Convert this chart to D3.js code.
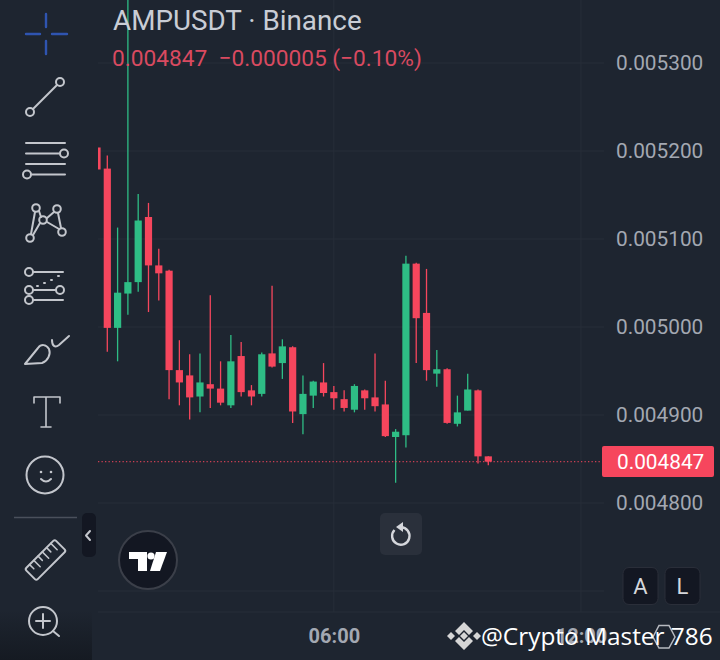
<!DOCTYPE html>
<html>
<head>
<meta charset="UTF-8">
<title>AMPUSDT</title>
<script src="https://d3js.org/d3.v7.min.js"></script>
<style>
  html, body { margin: 0; padding: 0; background: #1e2530; }
  svg { display: block; font-family: Roboto, sans-serif; }
  .price-axis text { fill: #a3a8b2; font-size: 20.8px; font-family: Roboto, sans-serif; }
  .time-axis text { fill: #a3a8b2; font-size: 20px; font-weight: 700; font-family: Roboto, sans-serif; }
  .tool { fill: none; stroke: #c3c6cc; stroke-width: 2; stroke-linecap: round; stroke-linejoin: round; }
</style>
</head>
<body>
<svg id="chart" width="720" height="660"></svg>
<script>
// candles, oldest first
const opens = [0.005204, 0.005180, 0.004999, 0.005038, 0.005051, 0.005125, 0.005070, 0.005064, 0.004951, 0.004945,
  0.004921, 0.004935, 0.004930, 0.004911, 0.004967, 0.004928, 0.004924, 0.004970, 0.004959, 0.004977,
  0.004901, 0.004922, 0.004937, 0.004926, 0.004918, 0.004906, 0.004928, 0.004920, 0.004912, 0.004875,
  0.004877, 0.005072, 0.005016, 0.004947, 0.004952, 0.004890, 0.004905, 0.004928, 0.004853];
const highs = [0.005204, 0.005195, 0.005113, 0.005372, 0.005151, 0.005141, 0.005089, 0.005065, 0.004985, 0.004969,
  0.004970, 0.005036, 0.004961, 0.004991, 0.004983, 0.004934, 0.004971, 0.005047, 0.004986, 0.004978,
  0.004945, 0.004939, 0.004959, 0.004933, 0.004928, 0.004935, 0.004929, 0.004970, 0.004939, 0.004884,
  0.005081, 0.005073, 0.005066, 0.004974, 0.004953, 0.004922, 0.004947, 0.004929, 0.004853];
const lows = [0.005179, 0.004972, 0.004961, 0.005014, 0.005040, 0.005017, 0.005030, 0.004918, 0.004911, 0.004895,
  0.004903, 0.004908, 0.004911, 0.004908, 0.004921, 0.004911, 0.004921, 0.004954, 0.004941, 0.004891,
  0.004878, 0.004908, 0.004921, 0.004906, 0.004904, 0.004903, 0.004906, 0.004904, 0.004875, 0.004823,
  0.004863, 0.004959, 0.004939, 0.004932, 0.004890, 0.004887, 0.004905, 0.004845, 0.004843];
const closes = [0.005179, 0.004999, 0.005039, 0.005051, 0.005121, 0.005070, 0.005061, 0.004951, 0.004937, 0.004920,
  0.004937, 0.004930, 0.004914, 0.004961, 0.004926, 0.004921, 0.004969, 0.004955, 0.004978, 0.004904,
  0.004924, 0.004938, 0.004925, 0.004919, 0.004908, 0.004933, 0.004919, 0.004910, 0.004876, 0.004881,
  0.005072, 0.005010, 0.004951, 0.004952, 0.004891, 0.004903, 0.004929, 0.004853, 0.004847];
const priceTicks = [0.0048, 0.0049, 0.0050, 0.0051, 0.0052, 0.0053];
const gridOnly = [0.0047];
const timeTicks = [23, 47];
const timeLabels = { 23: "06:00", 47: "12:00" };
const lastPrice = 0.004847;

const UP = "#2ebd85", DOWN = "#f6465d", GRID = "#272e39";

const svg = d3.select("#chart");

const x = d3.scaleLinear().domain([0, 38]).range([97, 488.3]);
const y = d3.scaleLinear().domain([0.0048, 0.0053]).range([503, 63]);

svg.append("clipPath").attr("id", "plot").append("rect")
  .attr("x", 98).attr("y", 0).attr("width", 520).attr("height", 612);

const shade = svg.append("linearGradient").attr("id", "toolbarShade")
  .attr("x1", 0).attr("x2", 0).attr("y1", 0).attr("y2", 1);
shade.append("stop").attr("offset", 0).attr("stop-color", "#151a22").attr("stop-opacity", 0);
shade.append("stop").attr("offset", 1).attr("stop-color", "#151a22").attr("stop-opacity", 1);

// grid
const grid = svg.append("g");
grid.selectAll(".h").data(priceTicks.concat(gridOnly)).join("line")
  .attr("x1", 98).attr("x2", 604)
  .attr("y1", d => y(d)).attr("y2", d => y(d))
  .attr("stroke", GRID);
grid.selectAll(".v").data(timeTicks).join("line")
  .attr("x1", d => x(d)).attr("x2", d => x(d))
  .attr("y1", 0).attr("y2", 612)
  .attr("stroke", GRID);
grid.append("line").attr("x1", 98).attr("x2", 720).attr("y1", 612).attr("y2", 612).attr("stroke", GRID);

// candles
const candles = svg.append("g").attr("clip-path", "url(#plot)");
const idx = d3.range(opens.length);
const color = i => closes[i] >= opens[i] ? UP : DOWN;

candles.selectAll(".wick").data(idx).join("line")
  .attr("x1", i => x(i)).attr("x2", i => x(i))
  .attr("y1", i => y(highs[i])).attr("y2", i => y(lows[i]))
  .attr("stroke", color).attr("stroke-width", 1.3);
candles.selectAll(".body").data(idx).join("rect")
  .attr("x", i => x(i) - 3.6).attr("width", 7.2)
  .attr("y", i => y(Math.max(opens[i], closes[i])))
  .attr("height", i => Math.abs(y(opens[i]) - y(closes[i])))
  .attr("fill", color);

// last price line
svg.append("line").attr("x1", 98).attr("x2", 602)
  .attr("y1", y(lastPrice)).attr("y2", y(lastPrice))
  .attr("stroke", DOWN).attr("stroke-opacity", 0.8).attr("stroke-width", 1.3).attr("stroke-dasharray", "1.3 2.2");

// axes
const priceAxis = d3.axisRight(y).tickValues(priceTicks).tickSize(0).tickPadding(0).tickFormat(d3.format(".6f"));
svg.append("g").attr("class", "price-axis").attr("transform", "translate(616,0)").call(priceAxis)
  .call(g => g.select(".domain").remove());

const timeAxis = d3.axisBottom(x).tickValues(timeTicks).tickSize(0).tickPadding(0).tickFormat(d => timeLabels[d]);
svg.append("g").attr("class", "time-axis").attr("transform", "translate(0,629)").call(timeAxis)
  .call(g => g.select(".domain").remove());

svg.append("rect").attr("x", 602).attr("y", 446).attr("width", 112).attr("height", 31).attr("rx", 2).attr("fill", DOWN);
svg.append("text").attr("x", 617).attr("y", 469).attr("fill", "#fff").attr("font-size", 20.8).text(d3.format(".6f")(lastPrice));

// header
svg.append("text").attr("x", 113).attr("y", 30).attr("fill", "#c9cdd5").attr("font-size", 27.8).text("AMPUSDT · Binance");
svg.append("text").attr("x", 112).attr("y", 66).attr("fill", "#d94a60").attr("font-size", 22.7)
  .text("0.004847  −0.000005 (−0.10%)").attr("xml:space", "preserve");

// left toolbar
const tools = svg.append("g");
tools.append("rect").attr("x", 0).attr("y", 610).attr("width", 92).attr("height", 50).attr("fill", "url(#toolbarShade)");

function tool(d, stroke) {
  const p = tools.append("path").attr("class", "tool").attr("d", d);
  if (stroke) p.style("stroke", stroke);
  return p;
}
function ring(cx, cy, r) {
  tools.append("circle").attr("class", "tool").attr("cx", cx).attr("cy", cy).attr("r", r);
}

tool("M46 14V27M46 41V54M26 34H40M52 34H67", "#2f54b0").style("stroke-width", 2.4);

tool("M33 109L57 85"); ring(30, 112, 4); ring(60, 82, 4);

tool("M26 143H65M26 153.5H60M26 164H65M31 174.5H65"); ring(64, 153.5, 4); ring(27, 174.5, 4);

tool("M35 212L31 234M39 211L41 217M54 212L47 218M40 223L33 235M47 222L59 229M58 213L61 228");
ring(36, 208, 3.8); ring(57, 209, 3.8); ring(43, 220, 3.8); ring(30, 238, 3.8); ring(62, 232, 3.8);

tool("M33 272H63M33 290H56M33 300H63"); ring(29, 272, 4); ring(29, 290, 4); ring(60, 290, 4); ring(29, 300, 4);
tool("M37 286L38 286M44 283L45 283M51 280L52 280M58 276L59 276");

tool("M25 364L38 348C41 344 46 344 49 349C51 354 48 361 42 363ZM52 340C52 346 55 348 59 345L69 336");

tool("M34 403V397H60V403M46 397V427M41 427H51").style("stroke-width", 1.6);

ring(45, 475, 18.5);
tool("M41 479Q46 484 51 479");
tools.append("circle").attr("cx", 41).attr("cy", 472).attr("r", 1.3).attr("fill", "#c3c6cc");
tools.append("circle").attr("cx", 51).attr("cy", 472).attr("r", 1.3).attr("fill", "#c3c6cc");

tools.append("line").attr("x1", 14).attr("x2", 77).attr("y1", 517.5).attr("y2", 517.5).attr("stroke", "#4a505b").attr("stroke-width", 1.6);

tools.append("rect").attr("x", 82).attr("y", 513).attr("width", 14).attr("height", 44).attr("rx", 5).attr("fill", "#131722");
tool("M90 531L86 535.5L90 540");

tools.append("rect").attr("class", "tool").attr("x", 24.5).attr("y", 552).attr("width", 42).attr("height", 16)
  .attr("rx", 2).attr("transform", "rotate(-45 45.5 560)");
tool("M31 552V558M37 552V561M43 552V558M49 552V561M55 552V558M61 552V561")
  .attr("transform", "rotate(-45 45.5 560)").style("stroke-width", 1.5);

ring(43, 621, 14);
tool("M36 621H50M43 614V628M53 631L59 636");

// tradingview badge
svg.append("circle").attr("cx", 148).attr("cy", 560).attr("r", 29).attr("fill", "#131722").attr("stroke", "#3b3f49").attr("stroke-width", 2);
svg.append("path").attr("fill", "#fff").attr("d", "M129 552H147V571H138V559H129Z");
svg.append("circle").attr("cx", 151).attr("cy", 556).attr("r", 3.6).attr("fill", "#fff");
svg.append("path").attr("fill", "#fff").attr("d", "M156 552H167L160 571H150Z");

// reset button
svg.append("rect").attr("x", 380).attr("y", 513).attr("width", 42).attr("height", 42).attr("rx", 5).attr("fill", "#2a303b");
svg.append("path").attr("fill", "none").attr("stroke", "#d5d7dc").attr("stroke-width", 2.4)
  .attr("d", "M394.5 530A8.7 8.7 0 1 0 401 527.3");
svg.append("path").attr("fill", "#d5d7dc").attr("d", "M403 522V532L396 527Z");

// A / L buttons
[["A", 623], ["L", 665]].forEach(b => {
  svg.append("rect").attr("x", b[1]).attr("y", 567.5).attr("width", 35).attr("height", 37).attr("rx", 6)
    .attr("fill", "#131722").attr("stroke", "#2a2e39");
  svg.append("text").attr("x", b[1] + 17.5).attr("y", 594).attr("text-anchor", "middle")
    .attr("fill", "#d5d7dc").attr("font-size", 22).text(b[0]);
});

// watermark
svg.append("path").attr("fill", "#d6d6d6")
  .attr("d", "M464 622L473 631L469 635L464 630L459 635L455 631ZM455 636L451 632L447 636L451 640ZM477 632L481 636L477 640L473 636ZM464 632L468 636L464 640L460 636ZM459 637L464 642L469 637L473 641L464 650L455 641Z");
svg.append("path").attr("fill", "none").attr("stroke", "#b7bac0").attr("stroke-width", 1.5)
  .attr("d", "M653 637L659 625.5H669L675 637L669 648H659Z");
svg.append("text").attr("x", 481).attr("y", 645).attr("fill", "#fff").attr("font-size", 24.4)
  .attr("font-family", "'Open Sans', sans-serif").text("@Crypto Master 786");
</script>
</body>
</html>
